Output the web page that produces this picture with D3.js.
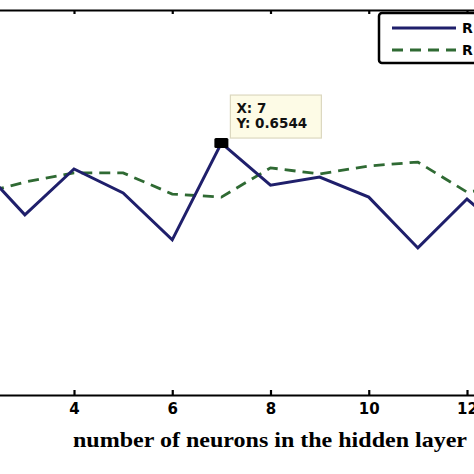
<!DOCTYPE html>
<html>
<head>
<meta charset="utf-8">
<script src="https://cdn.jsdelivr.net/npm/d3@7"></script>
<style>
  html, body { margin: 0; padding: 0; background: #fff; overflow: hidden; }
  svg { display: block; }
</style>
</head>
<body>
<div id="chart"></div>
<script>
// Data
var neurons = [2, 3, 4, 5, 6, 7, 8, 9, 10, 11, 12, 13];
var rSolid = [0.606, 0.468, 0.587, 0.525, 0.403, 0.6544, 0.545, 0.566, 0.514, 0.382, 0.509, 0.40];
var rDashed = [0.520, 0.553, 0.577, 0.577, 0.522, 0.514, 0.590, 0.574, 0.595, 0.605, 0.527, 0.545];
var xTicks = [4, 6, 8, 10, 12];
var legendLabels = ["R", "R"];
var tipPoint = { x: 7, y: 0.6544 };

// Constants:
var width = 474, height = 474;
var unit = (467 - 74) / 8;

var x = d3.scaleLinear()
  .domain([1, 15])
  .range([74 - 3 * unit, 467 + 3 * unit]);
var y = d3.scaleLinear()
  .domain([0, 1])
  .range([395, 10]);

var svg = d3.select("#chart").append("svg")
  .attr("width", width)
  .attr("height", height);

// Bottom axis, ticks pointing inwards
var bottomAxis = svg.append("g")
  .attr("transform", "translate(0," + y(0) + ")")
  .call(d3.axisBottom(x).tickValues(xTicks).tickSizeInner(-5).tickSizeOuter(0).tickPadding(8));
bottomAxis.select(".domain").attr("stroke", "#000").attr("stroke-width", 2.2);
bottomAxis.selectAll(".tick line").attr("stroke", "#000").attr("stroke-width", 2.2);
bottomAxis.selectAll(".tick text")
  .attr("fill", "#000")
  .style("font-family", "'DejaVu Sans', sans-serif")
  .style("font-weight", "bold")
  .style("font-size", "15px");

// Top axis, ticks pointing down
var topAxis = svg.append("g")
  .attr("transform", "translate(0," + y(1) + ")")
  .call(d3.axisTop(x).tickValues(xTicks).tickSizeInner(-4).tickSizeOuter(0).tickFormat(""));
topAxis.select(".domain").attr("stroke", "#000").attr("stroke-width", 2.2);
topAxis.selectAll(".tick line").attr("stroke", "#000").attr("stroke-width", 2.2);

// Lines
var line = d3.line()
  .x(function(d) { return x(d[0]); })
  .y(function(d) { return y(d[1]); });

svg.append("path")
  .datum(neurons.map(function(n, i) { return [n, rDashed[i]]; }))
  .attr("fill", "none")
  .attr("stroke", "#2f6a33")
  .attr("stroke-width", 2.8)
  .attr("stroke-dasharray", "11,7")
  .attr("d", line);

svg.append("path")
  .datum(neurons.map(function(n, i) { return [n, rSolid[i]]; }))
  .attr("fill", "none")
  .attr("stroke", "#1f1f6b")
  .attr("stroke-width", 3)
  .attr("stroke-linejoin", "miter")
  .attr("d", line);

// Data tip
var tx = x(tipPoint.x), ty = y(tipPoint.y);
svg.append("rect")
  .attr("x", tx - 7).attr("y", ty - 5)
  .attr("width", 14).attr("height", 10)
  .attr("rx", 1.5)
  .attr("fill", "#000");

var tip = svg.append("g").attr("transform", "translate(" + (tx + 9) + "," + (ty - 48) + ")");
tip.append("rect")
  .attr("width", 91).attr("height", 43)
  .attr("fill", "#fdfbe6")
  .attr("stroke", "#dcd8bf")
  .attr("stroke-width", 1.2);
tip.selectAll("text")
  .data(["X: " + tipPoint.x, "Y: " + tipPoint.y])
  .enter().append("text")
  .attr("x", 6)
  .attr("y", function(d, i) { return 18 + i * 15; })
  .style("font-family", "'DejaVu Sans', sans-serif")
  .style("font-weight", "bold")
  .style("font-size", "13.5px")
  .attr("fill", "#111")
  .text(function(d) { return d; });

// Legend (cut off on the right)
var legend = svg.append("g").attr("transform", "translate(379,13)");
legend.append("rect")
  .attr("width", 130).attr("height", 50)
  .attr("rx", 3)
  .attr("fill", "#fff")
  .attr("stroke", "#000")
  .attr("stroke-width", 2.5);
var styles = [
  { stroke: "#1f1f6b", dash: null },
  { stroke: "#2f6a33", dash: "11,7" }
];
legendLabels.forEach(function(label, i) {
  var ly = 15 + i * 22;
  legend.append("line")
    .attr("x1", 13).attr("x2", 77)
    .attr("y1", ly).attr("y2", ly)
    .attr("stroke", styles[i].stroke)
    .attr("stroke-width", 2.8)
    .attr("stroke-dasharray", styles[i].dash);
  legend.append("text")
    .attr("x", 83).attr("y", ly + 5)
    .style("font-family", "'DejaVu Sans', sans-serif")
    .style("font-weight", "bold")
    .style("font-size", "14px")
    .text(label);
});

// X axis title
svg.append("text")
  .attr("x", 270)
  .attr("y", 447)
  .attr("text-anchor", "middle")
  .attr("textLength", 394)
  .attr("lengthAdjust", "spacingAndGlyphs")
  .style("font-family", "'Liberation Serif', 'Times New Roman', serif")
  .style("font-weight", "bold")
  .style("font-size", "22px")
  .text("number of neurons in the hidden layer");
</script>
</body>
</html>
